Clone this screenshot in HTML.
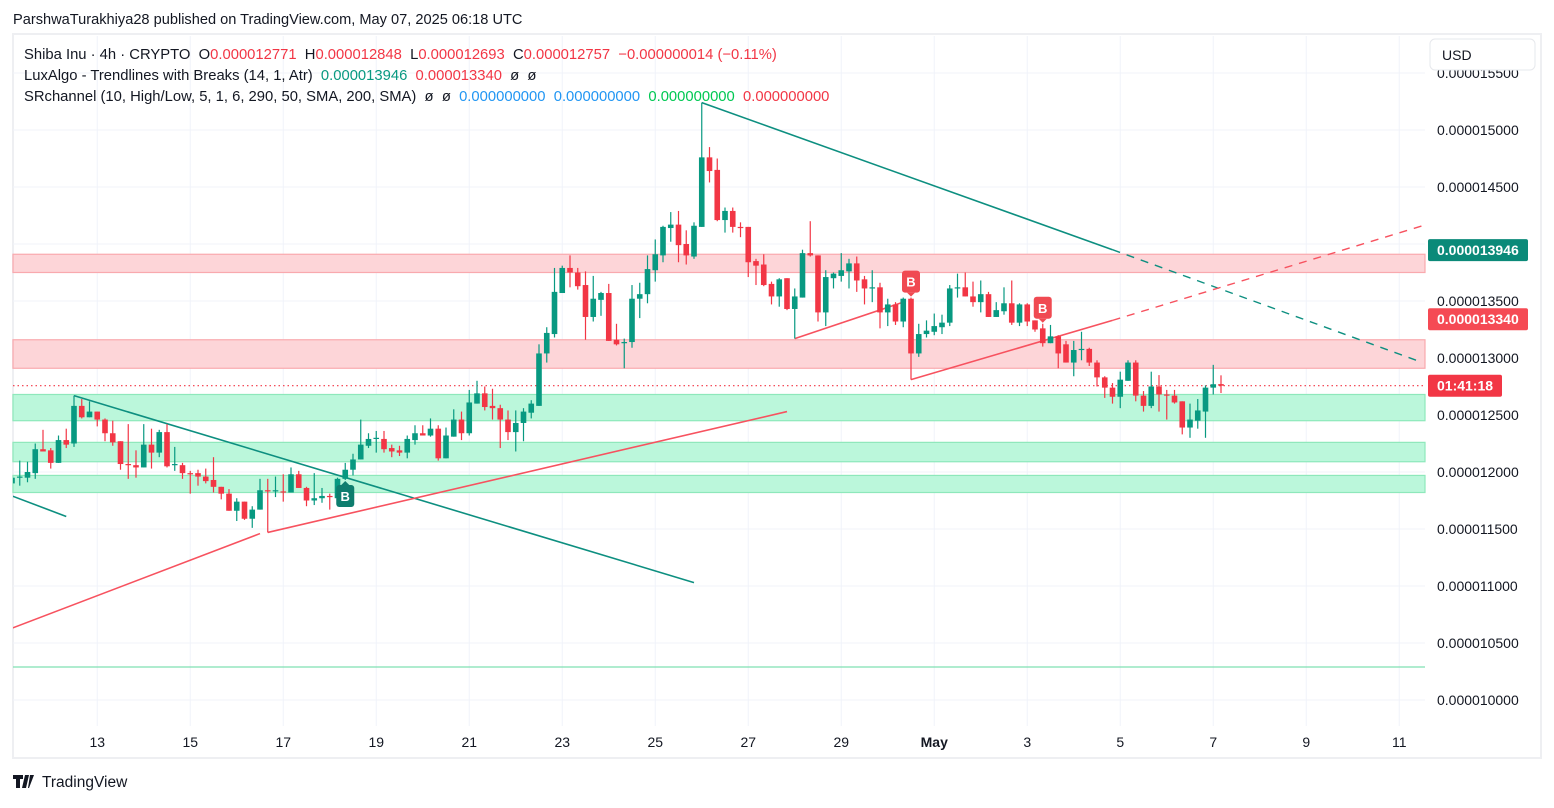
<!DOCTYPE html>
<html><head><meta charset="utf-8"><style>
html,body{margin:0;padding:0;background:#fff;}
body{width:1554px;height:803px;overflow:hidden;font-family:"Liberation Sans",sans-serif;}
svg text{font-family:"Liberation Sans",sans-serif;white-space:pre;}
</style></head><body>
<svg id="chart" width="1554" height="803" viewBox="0 0 1554 803" xmlns="http://www.w3.org/2000/svg">
<defs><clipPath id="plot"><rect x="13" y="35" width="1412" height="722"/></clipPath></defs>
<rect x="0" y="0" width="1554" height="803" fill="#ffffff"/>
<text x="13" y="24" font-size="14.6" fill="#131722">ParshwaTurakhiya28 published on TradingView.com, May 07, 2025 06:18 UTC</text>
<rect x="13" y="34" width="1528" height="724" fill="none" stroke="#eeeff2" stroke-width="2"/>
<g id="grid"></g>
<g id="zones"></g>
<line x1="13" y1="667" x2="1425" y2="667" stroke="#7fe0b2" stroke-width="1.2"/>
<g id="trend" clip-path="url(#plot)"></g>
<g id="candles" clip-path="url(#plot)"></g>
<g id="labels"></g>
<g id="axis"></g>
<g id="xaxis"></g>
<g font-size="14.8">
<text x="24" y="59" fill="#131722">Shiba Inu · 4h · CRYPTO  O<tspan fill="#f23645">0.000012771</tspan>  H<tspan fill="#f23645">0.000012848</tspan>  L<tspan fill="#f23645">0.000012693</tspan>  C<tspan fill="#f23645">0.000012757</tspan>  <tspan fill="#f23645">−0.000000014 (−0.11%)</tspan></text>
<text x="24" y="80" fill="#131722">LuxAlgo - Trendlines with Breaks (14, 1, Atr)  <tspan fill="#089981">0.000013946</tspan>  <tspan fill="#f23645">0.000013340</tspan>  ø  ø</text>
<text x="24" y="101" fill="#131722">SRchannel (10, High/Low, 5, 1, 6, 290, 50, SMA, 200, SMA)  ø  ø  <tspan fill="#2196f3">0.000000000</tspan>  <tspan fill="#2196f3">0.000000000</tspan>  <tspan fill="#00c853">0.000000000</tspan>  <tspan fill="#f23645">0.000000000</tspan></text>
</g>
<rect x="1430" y="39" width="105" height="31" rx="5" fill="#fff" stroke="#e6e8ec"/>
<text x="1442" y="60" font-size="14" fill="#131722">USD</text>
<g>
<path d="M13 775h10v4h-3v9h-4v-9h-3z M25 775h4l-3 13h-4z M30 775h4l-5 13h-1z" fill="#131722"/>
<text x="42" y="787" font-size="15.5" fill="#131722">TradingView</text>
</g>
</svg>
<script>
// OHLC in units of 1e-6 USD
const opens=[11.90,11.95,11.95,11.99,12.20,12.19,12.08,12.28,12.25,12.58,12.48,12.53,12.46,12.34,12.27,12.07,12.06,12.04,12.24,12.17,12.35,12.06,12.06,11.99,11.99,11.96,11.93,11.87,11.81,11.66,11.74,11.59,11.67,11.84,11.83,11.83,11.82,11.98,11.86,11.75,11.77,11.79,11.77,11.94,12.02,12.11,12.23,12.29,12.29,12.21,12.19,12.17,12.28,12.34,12.32,12.38,12.12,12.31,12.46,12.34,12.60,12.69,12.58,12.56,12.46,12.35,12.43,12.52,12.58,13.04,13.21,13.57,13.79,13.75,13.64,13.36,13.51,13.57,13.16,13.13,13.14,13.52,13.56,13.77,13.90,14.14,14.17,14.00,13.89,14.15,14.76,14.65,14.21,14.29,14.15,14.15,13.85,13.82,13.65,13.54,13.70,13.43,13.53,13.92,13.90,13.40,13.70,13.72,13.76,13.83,13.69,13.61,13.62,13.40,13.47,13.32,13.52,13.04,13.21,13.23,13.27,13.31,13.61,13.62,13.54,13.49,13.56,13.36,13.41,13.48,13.31,13.47,13.33,13.26,13.13,13.19,13.12,12.96,13.07,13.08,12.96,12.83,12.74,12.66,12.80,12.96,12.67,12.58,12.75,12.68,12.67,12.62,12.39,12.45,12.53,12.74,12.771];
const highs=[11.97,12.10,12.09,12.25,12.37,12.21,12.32,12.38,12.67,12.64,12.62,12.53,12.47,12.45,12.27,12.42,12.19,12.42,12.38,12.37,12.42,12.22,12.08,12.01,12.02,12.03,12.13,11.87,11.85,11.77,11.74,11.70,11.94,11.94,11.96,11.98,12.04,12.01,11.87,11.99,11.86,11.81,11.95,12.08,12.16,12.46,12.34,12.36,12.36,12.24,12.23,12.32,12.41,12.41,12.47,12.41,12.39,12.55,12.53,12.72,12.80,12.75,12.73,12.59,12.54,12.54,12.56,12.63,13.12,13.27,13.79,13.81,13.90,13.79,13.76,13.72,13.58,13.65,13.30,13.17,13.64,13.66,13.90,14.04,14.16,14.28,14.29,14.12,14.19,15.24,14.85,14.75,14.32,14.32,14.19,14.15,13.87,13.91,13.67,13.70,13.70,13.61,13.95,14.20,13.90,13.77,13.75,13.92,13.87,13.89,13.72,13.77,13.66,13.52,13.49,13.53,13.53,13.30,13.33,13.39,13.38,13.64,13.74,13.75,13.67,13.68,13.58,13.49,13.62,13.68,13.48,13.48,13.33,13.30,13.29,13.20,13.15,13.15,13.23,13.09,12.98,12.84,12.78,12.88,12.98,12.98,12.71,12.88,12.85,12.72,12.72,12.62,12.60,12.64,12.76,12.94,12.848];
const lows=[11.88,11.88,11.91,11.94,12.18,12.03,12.08,12.21,12.22,12.47,12.48,12.40,12.27,12.23,12.02,11.94,11.95,12.04,12.03,12.13,12.04,12.01,11.94,11.81,11.88,11.90,11.82,11.76,11.66,11.57,11.58,11.51,11.67,11.47,11.78,11.74,11.82,11.86,11.70,11.71,11.73,11.67,11.75,11.93,11.97,12.11,12.21,12.17,12.17,12.13,12.14,12.12,12.24,12.32,12.31,12.10,12.12,12.31,12.28,12.32,12.60,12.54,12.46,12.21,12.28,12.18,12.27,12.47,12.58,12.96,13.18,13.57,13.62,13.60,13.16,13.32,13.37,13.15,13.11,12.91,13.09,13.35,13.48,13.67,13.84,14.02,13.84,13.82,13.87,14.15,14.54,14.20,14.10,14.10,14.06,13.71,13.64,13.63,13.47,13.45,13.42,13.17,13.53,13.89,13.32,13.28,13.61,13.67,13.61,13.58,13.47,13.49,13.26,13.28,13.29,13.27,12.81,13.01,13.18,13.20,13.21,13.28,13.53,13.54,13.45,13.40,13.36,13.36,13.38,13.29,13.28,13.28,13.23,13.10,13.13,12.91,12.96,12.84,12.98,12.93,12.75,12.65,12.60,12.56,12.80,12.62,12.53,12.56,12.53,12.46,12.60,12.33,12.30,12.38,12.30,12.68,12.693];
const closes=[11.95,11.96,12.00,12.20,12.18,12.08,12.28,12.24,12.58,12.48,12.53,12.46,12.34,12.26,12.07,12.06,12.04,12.24,12.17,12.35,12.05,12.07,11.99,11.98,11.96,11.92,11.87,11.81,11.66,11.74,11.59,11.67,11.84,11.83,11.84,11.82,11.98,11.86,11.75,11.77,11.79,11.78,11.94,12.02,12.11,12.24,12.29,12.30,12.20,12.18,12.17,12.29,12.34,12.32,12.38,12.12,12.32,12.46,12.34,12.61,12.69,12.57,12.56,12.46,12.35,12.43,12.53,12.60,13.04,13.22,13.58,13.79,13.75,13.63,13.36,13.52,13.57,13.15,13.12,13.14,13.52,13.56,13.78,13.91,14.15,14.17,13.99,13.90,14.16,14.76,14.64,14.21,14.29,14.15,14.14,13.84,13.81,13.64,13.54,13.69,13.43,13.54,13.92,13.90,13.40,13.71,13.74,13.77,13.83,13.68,13.61,13.62,13.40,13.47,13.32,13.52,13.04,13.21,13.24,13.28,13.31,13.61,13.62,13.54,13.49,13.56,13.36,13.42,13.48,13.31,13.47,13.32,13.25,13.13,13.19,13.04,12.96,13.07,13.08,12.96,12.83,12.74,12.66,12.81,12.96,12.67,12.58,12.75,12.68,12.67,12.61,12.39,12.46,12.54,12.74,12.77,12.757];
const priceTicks=[10.0,10.5,11.0,11.5,12.0,12.5,13.0,13.5,14.0,14.5,15.0,15.5];
const dateLabels=["13","15","17","19","21","23","25","27","29","May","3","5","7","9","11"];
const dateIdx=[11,23,35,47,59,71,83,95,107,119,131,143,155,167,179];
const zoneTop=[13.91,13.16,12.68,12.26,11.97];
const zoneBot=[13.75,12.91,12.45,12.09,11.82];
const zoneKind=["res","res","sup","sup","sup"];
const tlI1=[0,8,89,0,33,101,116];
const tlP1=[11.79,12.67,15.24,10.63,11.47,13.17,12.81];
const tlI2=[7,88,142,32,100,115,142];
const tlP2=[11.61,11.03,13.95,11.46,12.53,13.49,13.33];
const tlKind=["down","down","down","up","up","up","up"];
const extI=[null,null,182,null,null,null,182];
const extP=[null,null,12.96,null,null,null,14.16];
const breakIdx=[43,116,133];
const breakKind=["up","down","down"];
const lastPrice=12.757, upperLevel=13.946, lowerLevel=13.340;

const NS="http://www.w3.org/2000/svg";
const X0=12, STEP=7.75, PLEFT=13, PRIGHT=1425;
function xs(i){return X0+i*STEP;}
function ys(v){return 130+(15-v)*114;}
function mk(tag,attrs,parent){const e=document.createElementNS(NS,tag);for(const k in attrs)e.setAttribute(k,attrs[k]);parent.appendChild(e);return e;}
const grid=document.getElementById('grid');
priceTicks.forEach(t=>{const y=ys(t);if(y<36||y>756)return;
 const l=mk('line',{x1:PLEFT,x2:PRIGHT,y1:y,y2:y,stroke:'#f0f3fa','stroke-width':1},grid);
 
 });
dateIdx.forEach(i=>{const x=xs(i);
 const l=mk('line',{x1:x,x2:x,y1:36,y2:726,stroke:'#f0f3fa','stroke-width':1},grid);
 
 });
const zones=document.getElementById('zones');
zoneTop.forEach((t,k)=>{const res=zoneKind[k]==='res';
 const r=mk('rect',{x:PLEFT,y:ys(t),width:PRIGHT-PLEFT,height:ys(zoneBot[k])-ys(t),fill:res?'#fdd5d8':'#bbf7db',stroke:res?'#f9a9ae':'#8ee8bb','stroke-width':1.2},zones);
 
 });
const cur=mk('line',{x1:PLEFT,x2:PRIGHT,y1:ys(lastPrice),y2:ys(lastPrice),stroke:'#f23645','stroke-width':1.2,'stroke-dasharray':'1.5 3'},zones);


const trend=document.getElementById('trend');
tlI1.forEach((i1,k)=>{const c=tlKind[k]==='down'?'#0d8f80':'#f7525f';
 const l=mk('line',{x1:xs(i1),y1:ys(tlP1[k]),x2:xs(tlI2[k]),y2:ys(tlP2[k]),stroke:c,'stroke-width':1.6},trend);
 
 
 if(extI[k]!==null){const e=mk('line',{x1:xs(tlI2[k]),y1:ys(tlP2[k]),x2:xs(extI[k]),y2:ys(extP[k]),stroke:c,'stroke-width':1.4,'stroke-dasharray':'8 7'},trend);
 
 }});
const cg=document.getElementById('candles');
opens.forEach((o,i)=>{const c=closes[i],up=c>=o,col=up?'#089981':'#f23645',x=xs(i);
 const w=mk('line',{x1:x,x2:x,y1:ys(highs[i]),y2:ys(lows[i]),stroke:col,'stroke-width':1.2},cg);
 
 
 const top=ys(Math.max(o,c)),h=Math.max(1.2,ys(Math.min(o,c))-top);
 const b=mk('rect',{x:x-2.8,y:top,width:5.6,height:h,fill:col},cg);
 
 });
const lg=document.getElementById('labels');
breakIdx.forEach((i,k)=>{const up=breakKind[k]==='up',col=up?'#0e7d6e':'#f04a52',x=xs(i);
 const y=up?ys(lows[i])+5:ys(highs[i])-27;
 const r=mk('rect',{x:x-9,y:y,width:18,height:22,rx:3,fill:col},lg);
 
 
 const p=mk('path',{d:up?`M${x-4} ${y} L${x} ${y-4} L${x+4} ${y}Z`:`M${x-4} ${y+22} L${x} ${y+26} L${x+4} ${y+22}Z`,fill:col},lg);
 
 
 const t=mk('text',{x:x,y:y+16,'text-anchor':'middle','font-size':13,'font-weight':'bold',fill:'#fff'},lg);t.textContent='B';
 
 });
const ax=document.getElementById('axis');
priceTicks.forEach(t=>{const y=ys(t);if(y<72||y>740)return;
 const tx=mk('text',{x:1437,y:y+5,'font-size':14,fill:'#131722'},ax);tx.textContent=(t*1e-6).toFixed(9);
 
 });
function badge(v,txt,col,w,name){const y=ys(v);
 const r=mk('rect',{x:1428,y:y-11,width:w,height:22,rx:2,fill:col},ax);
 
 
 const t=mk('text',{x:1437,y:y+5,'font-size':14,'font-weight':'bold',fill:'#fff'},ax);t.textContent=txt;
 
 }
badge(upperLevel,(upperLevel*1e-6).toFixed(9),'#0b8a79',100,'upper-trend-badge');
badge(lowerLevel,(lowerLevel*1e-6).toFixed(9),'#f54a54',100,'lower-trend-badge');
badge(lastPrice,'01:41:18','#f23645',74,'countdown-badge');
const xa=document.getElementById('xaxis');
dateLabels.forEach((d,k)=>{const t=mk('text',{x:xs(dateIdx[k]),y:747,'text-anchor':'middle','font-size':14,fill:'#131722','font-weight':d==='May'?'bold':'normal'},xa);t.textContent=d;
 
 });
</script>
</body></html>
